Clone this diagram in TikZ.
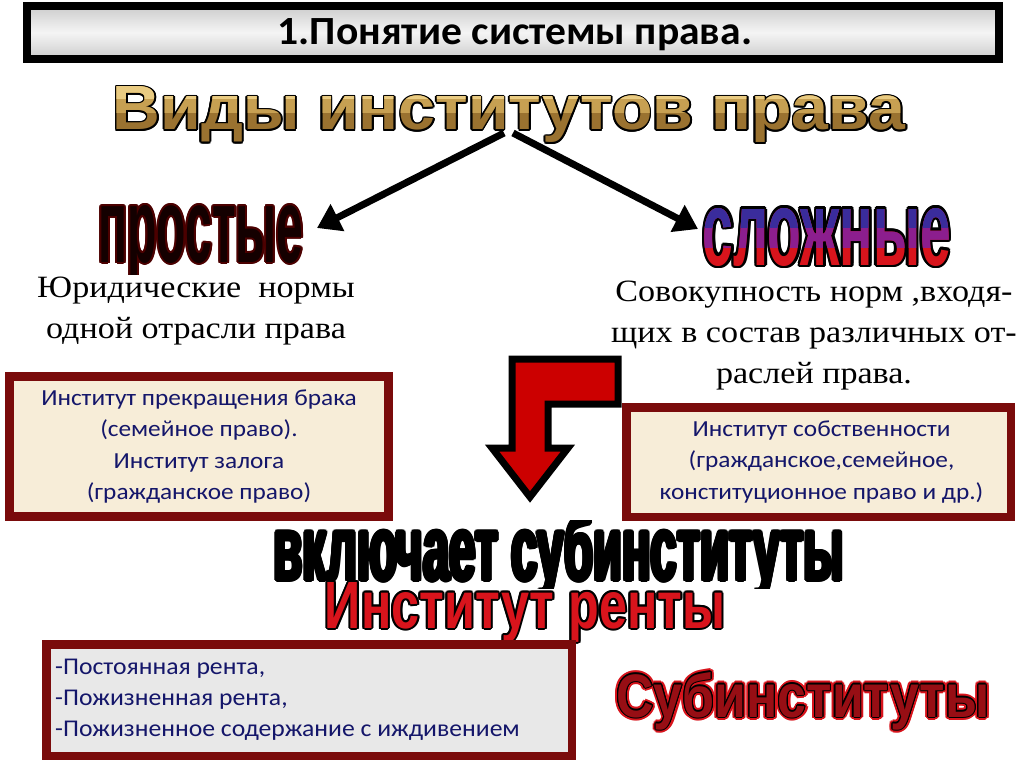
\documentclass[tikz,border=0pt]{standalone}
\usepackage{fontspec}
\setmainfont{Liberation Serif}
\newfontfamily\calfont{Carlito}
\newfontfamily\arfont{Liberation Sans}
\usetikzlibrary{arrows.meta}
\definecolor{framered}{HTML}{7A0B0B}
\definecolor{beige}{HTML}{F7EDD8}
\definecolor{marble}{HTML}{E8E8E8}
\definecolor{inkblue}{HTML}{14166A}
\definecolor{golddark}{HTML}{9A7230}
\definecolor{goldmid}{HTML}{C7A052}
\definecolor{goldlight}{HTML}{E9CB82}
\definecolor{artred}{HTML}{D8141C}
\definecolor{artblue}{HTML}{3A2C9C}
\definecolor{artpurple}{HTML}{8C1E8E}
\definecolor{arrowred}{HTML}{CC0000}
\tikzset{
  art/.style={inner sep=0pt,outer sep=0pt,anchor=base},
  bigarrow/.style={line width=7pt,-{Triangle[length=23pt,width=29pt]}},
  instbox/.style={draw=framered,line width=8.5pt,fill=beige},
  boxtext/.style={inner sep=0pt,text=inkblue,align=center,font=\calfont\fontsize{23}{31.3}\selectfont},
  defntext/.style={inner sep=0pt,anchor=north,align=center,font=\fontsize{31}{41}\selectfont}
}
% word art: name, position, outline radius, outline colour, fill colour, text
\newcommand\wordart[6]{%
  \foreach \a in {0,30,...,330}
    \node[art,text=#4,xshift={#3*cos(\a)*1pt},yshift={#3*sin(\a)*1pt}] at (#2) {#6};
  \node[art,text=#5] (#1) at (#2) {#6};}
% wider line
\newcommand\widen[2]{\scalebox{#1}[1]{#2}}
\newcommand\vidytxt{\resizebox{792pt}{43pt}{\arfont\bfseries Виды институтов права}}
\newcommand\prosttxt{\resizebox{205pt}{57pt}{\arfont\bfseries простые}}
\newcommand\slozhtxt{\resizebox{248pt}{57pt}{\arfont\bfseries сложные}}
\newcommand\vkltxt{\resizebox{570pt}{42pt}{\vphantom{в}\smash{\arfont\bfseries включает субинституты}}}
\newcommand\rentatxt{\resizebox{400pt}{46pt}{\arfont\bfseries Институт ренты}}
\newcommand\subtxt{\resizebox{373pt}{45pt}{\arfont\bfseries Субинституты}}
\begin{document}
\begin{tikzpicture}[x=1pt,y=-1pt]
\useasboundingbox[fill=white] (0,0) rectangle (1024,767);
% title
\draw[line width=8pt,top color=gray!40,bottom color=gray!40,middle color=gray!8] (27,6) rectangle (999,59);
\node[art,font=\calfont\bfseries\fontsize{40}{40}\selectfont] (title) at (515,45) {\widen{1.04}{1.Понятие системы права.}};
%
\wordart{vidy}{509,130}{1.8}{black}{golddark}{\vidytxt}
\begin{scope}
\clip (100,80) rectangle (920,113);
\node[art,text=goldmid] at (509,130) {\vidytxt};
\end{scope}
\begin{scope}
\clip (100,80) rectangle (920,99);
\node[art,text=goldlight] at (509,130) {\vidytxt};
\end{scope}
%
\coordinate (splitL) at (504,133);
\coordinate (splitR) at (513,133);
\coordinate (tipP) at (317,228);
\coordinate (tipS) at (698,229);
\draw[bigarrow] (splitL) -- (tipP);
\draw[bigarrow] (splitR) -- (tipS);
%
\begin{scope}
\clip (80,190) rectangle (330,274);
\wordart{prostye}{201,262}{2}{black!70!red}{black!92!red}{\prosttxt}
\end{scope}
\wordart{slozhnye}{827,265}{2.5}{black}{artred}{\slozhtxt}
\begin{scope}
\clip (690,190) rectangle (970,247);
\node[art,text=artpurple] at (827,265) {\slozhtxt};
\end{scope}
\begin{scope}
\clip (690,190) rectangle (970,228);
\node[art,text=artblue] at (827,265) {\slozhtxt};
\end{scope}
%
\node[defntext] (prostdef) at (196,277) {\widen{1.1}{Юридические\ \ нормы}\\\widen{1.1}{одной отрасли права}};
\node[defntext] (slozhdef) at (814,281) {\widen{1.1}{Совокупность норм ,входя-}\\\widen{1.1}{щих в состав различных от-}\\\widen{1.1}{раслей права.}};
%
\draw[line width=7pt,fill=arrowred,line join=miter] (512,359)--(618,359)--(618,404)--(548,404)--(548,448)--(568,448)--(530,497)--(492,448)--(512,448)--cycle;
%
\node[instbox,minimum width=379pt,minimum height=140pt] (boxprost) at (199,446.5) {};
\node[boxtext] (prosttext) at (boxprost.center)
  {\widen{1.1}{Институт прекращения брака}\\\widen{1.1}{(семейное право).}\\\widen{1.1}{Институт залога}\\\widen{1.1}{(гражданское право)}};
\node[instbox,minimum width=384.5pt,minimum height=109.5pt] (boxslozh) at (818.5,462) {};
\node[boxtext] (slozhtext) at ([xshift=3pt]boxslozh.center)
  {\widen{1.1}{Институт собственности}\\\widen{1.1}{(гражданское,семейное,}\\\widen{1.1}{конституционное право и др.)}};
%
\begin{scope}
\clip (250,520) rectangle (860,588);
\wordart{vkl}{559,580}{2}{black}{black}{\vkltxt}
\end{scope}
\wordart{renta}{525,628}{2}{black}{artred}{\rentatxt}
%
\node[instbox,fill=marble,minimum width=525.5pt,minimum height=111.5pt] (boxrenta) at (309,700) {};
\node[boxtext,align=left,anchor=west,font=\calfont\fontsize{24}{31}\selectfont] (rentatext) at ([xshift=13pt]boxrenta.west)
  {\widen{1.07}{-Постоянная рента,}\\\widen{1.07}{-Пожизненная рента,}\\\widen{1.07}{-Пожизненное содержание с иждивением}};
\foreach \a in {0,30,...,330}
  \node[art,text=artred,xshift={3.2*cos(\a)*1pt},yshift={3.2*sin(\a)*1pt}] at (803,717) {\subtxt};
\wordart{subinst}{803,717}{1.1}{black}{artred!70!black}{\subtxt}
\end{tikzpicture}
\end{document}
